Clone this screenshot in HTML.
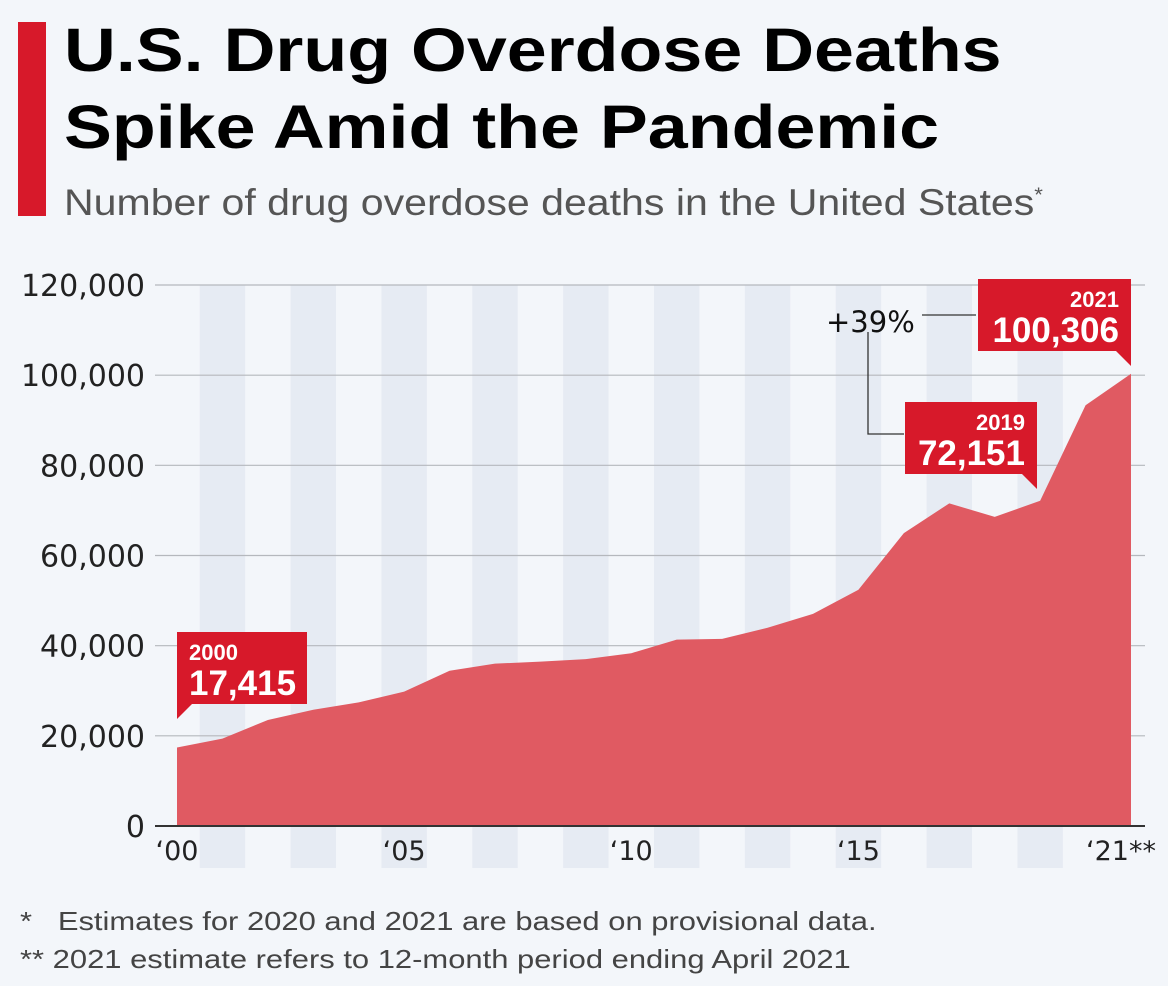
<!DOCTYPE html>
<html><head><meta charset="utf-8"><style>
body{margin:0;width:1168px;height:986px;background:#f3f6fa;font-family:"Liberation Sans","DejaVu Sans",sans-serif;overflow:hidden;position:relative}
.sx{transform-origin:0 0;white-space:nowrap}
</style></head><body>
<div style="position:absolute;left:18px;top:22px;width:28px;height:194px;background:#d7192a"></div>
<div class="sx" style="position:absolute;left:64px;top:12px;font-size:61px;font-weight:bold;line-height:77px;color:#000;transform:scaleX(1.177)">U.S. Drug Overdose Deaths<br>Spike Amid the Pandemic</div>
<div class="sx" style="position:absolute;left:64px;top:182px;font-size:37px;color:#555;transform:scaleX(1.11)">Number of drug overdose deaths in the United States<sup style="font-size:20px">*</sup></div>
<svg id="chart" width="1168" height="986" style="position:absolute;left:0;top:0"></svg>
<div class="sx" style="position:absolute;left:20px;top:906px;font-size:26px;color:#444;transform:scaleX(1.19)">*&nbsp;&nbsp;&nbsp;Estimates for 2020 and 2021 are based on provisional data.</div>
<div class="sx" style="position:absolute;left:20px;top:944px;font-size:26px;color:#444;transform:scaleX(1.19)">** 2021 estimate refers to 12-month period ending April 2021</div>
<script>
const years=[2000,2001,2002,2003,2004,2005,2006,2007,2008,2009,2010,2011,2012,2013,2014,2015,2016,2017,2018,2019,2020,2021];
const deaths=[17415,19394,23518,25785,27424,29813,34425,36010,36450,37004,38329,41340,41502,43982,47055,52404,64970,71568,68557,72151,93331,100306];
const yTicks=[0,20000,40000,60000,80000,100000,120000];
const xTickYears=[2000,2005,2010,2015,2021];
const xTickLabels=["‘00","‘05","‘10","‘15","‘21**"];
const NS="http://www.w3.org/2000/svg";
const svg=document.getElementById('chart');
const X=y=>177+(y-2000)*(1131-177)/21;
const Y=v=>826-v*(826-285)/120000;
function mk(t,a){const e=document.createElementNS(NS,t);for(const k in a)e.setAttribute(k,a[k]);svg.appendChild(e);return e;}
for(let yr=2001;yr<=2019;yr+=2){
 const r=mk('rect',{x:X(yr-0.5),y:285,width:X(1)-X(0),height:583,fill:'#e6ebf3'});
 
 
}
yTicks.forEach(v=>{
 if(v>0){const l=mk('line',{x1:155,x2:1145,y1:Y(v),y2:Y(v),stroke:'#b5b8bd','stroke-width':1.2});
 
 }
 const t=mk('text',{x:145,y:Y(v)+11,'text-anchor':'end','font-size':30,fill:'#222','font-family':'DejaVu Sans, sans-serif'});
 t.textContent=v.toLocaleString('en-US');
 
 
});
let d='M'+X(years[0])+','+Y(0);
years.forEach((y,i)=>{d+=' L'+X(y)+','+Y(deaths[i]);});
d+=' L'+X(years[years.length-1])+','+Y(0)+' Z';
const area=mk('path',{d:d,fill:'#e05a62'});


const ax=mk('line',{x1:155,x2:1145,y1:Y(0),y2:Y(0),stroke:'#333','stroke-width':2});


xTickYears.forEach((yr,i)=>{
 const last=i==xTickYears.length-1;
 const t=mk('text',{x:last?1156:X(yr),y:860,'text-anchor':last?'end':'middle','font-size':27,fill:'#222','font-family':'DejaVu Sans, sans-serif'});
 t.textContent=xTickLabels[i];
 
 
});
function callout(name,yr,val,bx,by,bw,tipX,anchorRight){
 const g=document.createElementNS(NS,'g');svg.appendChild(g);
 
 
 const bh=72,tipY=by+bh+15;
 let p;
 if(anchorRight)p=`M${bx},${by} H${bx+bw} V${tipY} L${bx+bw-15},${by+bh} H${bx} Z`;
 else p=`M${bx},${by} H${bx+bw} V${by+bh} H${bx+15} L${bx},${tipY} Z`;
 const e=document.createElementNS(NS,'path');e.setAttribute('d',p);e.setAttribute('fill','#d7192a');g.appendChild(e);
 const a=anchorRight?'end':'start',tx=anchorRight?bx+bw-12:bx+12;
 const t1=document.createElementNS(NS,'text');t1.setAttribute('x',tx);t1.setAttribute('y',by+28);t1.setAttribute('text-anchor',a);t1.setAttribute('font-size',22);t1.setAttribute('font-weight','bold');t1.setAttribute('fill','#fff');t1.textContent=yr;g.appendChild(t1);
 const t2=document.createElementNS(NS,'text');t2.setAttribute('x',tx);t2.setAttribute('y',by+63);t2.setAttribute('text-anchor',a);t2.setAttribute('font-size',35);t2.setAttribute('font-weight','bold');t2.setAttribute('fill','#fff');t2.textContent=val.toLocaleString('en-US');g.appendChild(t2);
}
callout('callout-2000',2000,deaths[0],177,632,130,177,false);
callout('callout-2019',2019,deaths[19],905,402,132,1037,true);
callout('callout-2021',2021,deaths[21],978,279,153,1131,true);
const c=mk('path',{d:'M868,332 V434 H904 M922,315 H976',fill:'none',stroke:'#333','stroke-width':1.3});


const pct=mk('text',{x:826,y:332,'font-size':29,fill:'#111','font-family':'DejaVu Sans, sans-serif'});
pct.textContent='+39%';


</script>
</body></html>
